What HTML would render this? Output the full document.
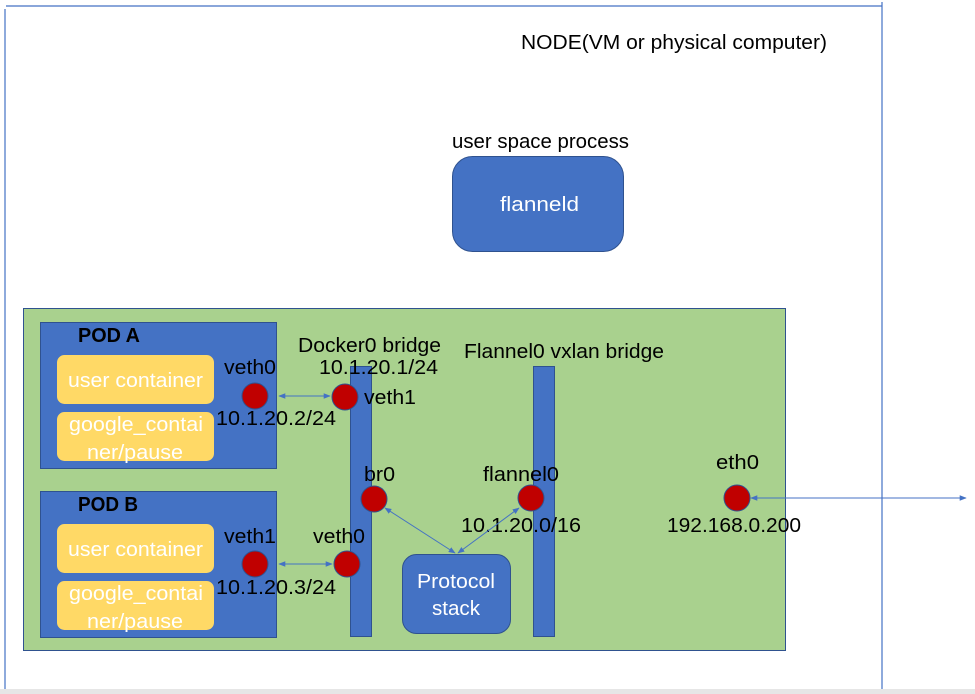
<!DOCTYPE html>
<html><head><meta charset="utf-8"><style>
html,body{margin:0;padding:0;background:#fff;}
svg{display:block;}
text{font-family:"Liberation Sans",sans-serif;font-size:20px;fill:#000;}
.w{fill:#fff;}
.b{font-weight:bold;}
</style></head><body>
<svg width="975" height="694" viewBox="0 0 975 694" xmlns="http://www.w3.org/2000/svg">
<defs>
<marker id="a" viewBox="0 0 10 10" refX="9" refY="5" markerWidth="7" markerHeight="7" orient="auto-start-reverse"><path d="M0,1 L10,5 L0,9 z" fill="#4472c4"/></marker>
</defs>
<rect x="0" y="0" width="975" height="694" fill="#fff"/>
<rect x="0" y="689" width="975" height="5" fill="#e6e6e6"/>
<line x1="6" y1="6" x2="882" y2="6" stroke="#4472c4" stroke-width="1.2"/>
<line x1="5" y1="9" x2="5" y2="689" stroke="#4472c4" stroke-width="1.2"/>
<line x1="882" y1="2" x2="882" y2="689" stroke="#4472c4" stroke-width="1.2"/>
<text x="521" y="49" textLength="306" lengthAdjust="spacingAndGlyphs">NODE(VM or physical computer)</text>
<text x="452" y="148" textLength="177" lengthAdjust="spacingAndGlyphs">user space process</text>
<rect x="452.5" y="156.5" width="171" height="95" rx="20" fill="#4472c4" stroke="#2f528f"/>
<text x="500" y="211" class="w" textLength="79" lengthAdjust="spacingAndGlyphs">flanneld</text>
<rect x="23.5" y="308.5" width="762" height="342" fill="#a9d18e" stroke="#2f528f"/>
<rect x="40.5" y="322.5" width="236" height="146" fill="#4472c4" stroke="#2f528f"/>
<text x="78" y="342" class="b" textLength="62" lengthAdjust="spacingAndGlyphs">POD A</text>
<rect x="56.5" y="354.5" width="158" height="50" rx="8" fill="#ffd966" stroke="#4472c4"/>
<text x="68" y="387" class="w" textLength="135" lengthAdjust="spacingAndGlyphs">user container</text>
<rect x="56.5" y="411.5" width="158" height="50" rx="8" fill="#ffd966" stroke="#4472c4"/>
<text x="69" y="431" class="w" textLength="134" lengthAdjust="spacingAndGlyphs">google_contai</text>
<text x="87" y="459" class="w" textLength="96" lengthAdjust="spacingAndGlyphs">ner/pause</text>
<rect x="40.5" y="491.5" width="236" height="146" fill="#4472c4" stroke="#2f528f"/>
<text x="78" y="511" class="b" textLength="60" lengthAdjust="spacingAndGlyphs">POD B</text>
<rect x="56.5" y="523.5" width="158" height="50" rx="8" fill="#ffd966" stroke="#4472c4"/>
<text x="68" y="556" class="w" textLength="135" lengthAdjust="spacingAndGlyphs">user container</text>
<rect x="56.5" y="580.5" width="158" height="50" rx="8" fill="#ffd966" stroke="#4472c4"/>
<text x="69" y="600" class="w" textLength="134" lengthAdjust="spacingAndGlyphs">google_contai</text>
<text x="87" y="628" class="w" textLength="96" lengthAdjust="spacingAndGlyphs">ner/pause</text>
<rect x="350.5" y="366.5" width="21" height="270" fill="#4472c4" stroke="#2f528f"/>
<rect x="533.5" y="366.5" width="21" height="270" fill="#4472c4" stroke="#2f528f"/>
<rect x="402.5" y="554.5" width="108" height="79" rx="14" fill="#4472c4" stroke="#2f528f"/>
<text x="417" y="588" class="w" textLength="78" lengthAdjust="spacingAndGlyphs">Protocol</text>
<text x="432" y="615" class="w" textLength="48" lengthAdjust="spacingAndGlyphs">stack</text>
<text x="298" y="352" textLength="143" lengthAdjust="spacingAndGlyphs">Docker0 bridge</text>
<text x="319" y="374" textLength="119" lengthAdjust="spacingAndGlyphs">10.1.20.1/24</text>
<text x="224" y="374" textLength="52" lengthAdjust="spacingAndGlyphs">veth0</text>
<text x="364" y="404" textLength="52" lengthAdjust="spacingAndGlyphs">veth1</text>
<text x="216" y="425" textLength="120" lengthAdjust="spacingAndGlyphs">10.1.20.2/24</text>
<text x="364" y="481" textLength="31" lengthAdjust="spacingAndGlyphs">br0</text>
<text x="224" y="543" textLength="52" lengthAdjust="spacingAndGlyphs">veth1</text>
<text x="313" y="543" textLength="52" lengthAdjust="spacingAndGlyphs">veth0</text>
<text x="216" y="594" textLength="120" lengthAdjust="spacingAndGlyphs">10.1.20.3/24</text>
<text x="464" y="358" textLength="200" lengthAdjust="spacingAndGlyphs">Flannel0 vxlan bridge</text>
<text x="483" y="481" textLength="76" lengthAdjust="spacingAndGlyphs">flannel0</text>
<text x="461" y="532" textLength="120" lengthAdjust="spacingAndGlyphs">10.1.20.0/16</text>
<text x="716" y="469" textLength="43" lengthAdjust="spacingAndGlyphs">eth0</text>
<text x="667" y="532" textLength="134" lengthAdjust="spacingAndGlyphs">192.168.0.200</text>
<line x1="279" y1="396" x2="330" y2="396" stroke="#4472c4" marker-start="url(#a)" marker-end="url(#a)"/>
<line x1="279" y1="564" x2="332" y2="564" stroke="#4472c4" marker-start="url(#a)" marker-end="url(#a)"/>
<line x1="385" y1="508" x2="455" y2="553" stroke="#4472c4" marker-start="url(#a)" marker-end="url(#a)"/>
<line x1="519" y1="508" x2="458" y2="553" stroke="#4472c4" marker-start="url(#a)" marker-end="url(#a)"/>
<line x1="751" y1="498" x2="966" y2="498" stroke="#4472c4" marker-start="url(#a)" marker-end="url(#a)"/>
<g fill="#c00000" stroke="#2f528f">
<ellipse cx="255" cy="396" rx="13" ry="13"/>
<ellipse cx="345" cy="397" rx="13" ry="13"/>
<ellipse cx="374" cy="499" rx="13" ry="13"/>
<ellipse cx="255" cy="564" rx="13" ry="13"/>
<ellipse cx="347" cy="564" rx="13" ry="13"/>
<ellipse cx="531" cy="498" rx="13" ry="13"/>
<ellipse cx="737" cy="498" rx="13" ry="13"/>
</g>
</svg>
</body></html>
